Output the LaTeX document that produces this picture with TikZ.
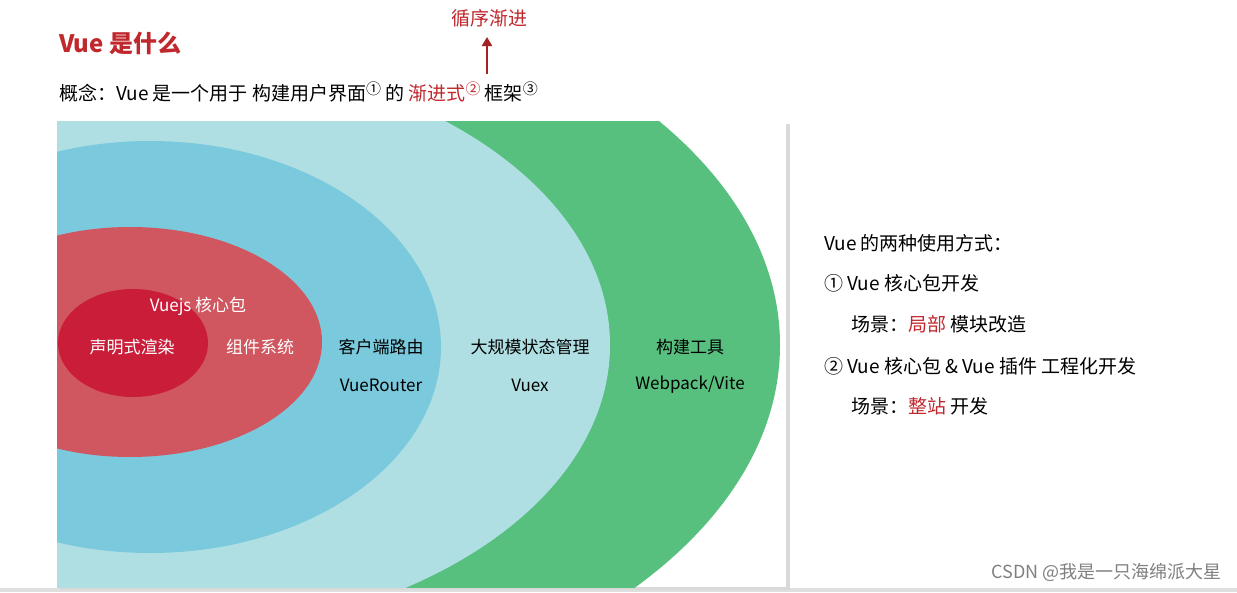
\documentclass[tikz,border=0pt]{standalone}
\usepackage{fontspec}
\setmainfont{Noto Sans CJK SC}
\usetikzlibrary{arrows.meta}
\definecolor{cgreen}{HTML}{57C07E}
\definecolor{clcyan}{HTML}{B0DFE3}
\definecolor{cblue}{HTML}{7BC9DC}
\definecolor{cred}{HTML}{D0565F}
\definecolor{cdred}{HTML}{C91D3A}
\definecolor{ttl}{HTML}{C0282D}
\newcommand{\sz}[1]{\fontsize{#1}{#1}\selectfont}
\newcommand{\circsup}[1]{\raisebox{0.55ex}{\sz{15}#1}}
\begin{document}
\begin{tikzpicture}[x=1pt,y=-1pt,
  lbl/.style={font=\sz{17}, text=black, inner sep=0pt},
  wlbl/.style={font=\sz{17}, text=white, inner sep=0pt},
  rt/.style={font=\sz{19}, anchor=west, inner sep=0pt}]
\useasboundingbox (0,0) rectangle (1237,592);
\fill[white] (0,0) rectangle (1237,592);
\fill[gray!25] (0,588) rectangle (1237,592);
% panel shadow
\fill[gray!30] (60,124) rectangle (790,590);
\begin{scope}
\clip (57,121) rectangle (786,587);
\fill[white] (57,121) rectangle (786,587);
\fill[cgreen] (150,345) ellipse [x radius=630, y radius=380];
\fill[clcyan] (150,345) ellipse [x radius=460, y radius=292];
\fill[cblue] (150,347) ellipse [x radius=291, y radius=206];
\fill[cred] (130,342) ellipse [x radius=192, y radius=115];
\fill[cdred] (133,343) ellipse [x radius=75, y radius=54];
\end{scope}
\node[wlbl] (core) at (198,306) {Vuejs 核心包};
\node[wlbl] (decl) at (132,347) {声明式渲染};
\node[wlbl] (comp) at (260,347) {组件系统};
\node[lbl] (router) at (381,347) {客户端路由};
\node[lbl] (routerE) at (381,385) {VueRouter};
\node[lbl] (state) at (530,347) {大规模状态管理};
\node[lbl] (vuex) at (530,385) {Vuex};
\node[lbl] (build) at (690,347) {构建工具};
\node[lbl] (wp) at (690,385) {Webpack/Vite};
% title
\node[anchor=west, inner sep=0pt, text=ttl, font=\sz{24}\bfseries] (title) at (59,43) {Vue 是什么};
\node[anchor=west, inner sep=0pt, font=\sz{19}] (concept) at (59,92) {概念：Vue 是一个用于 构建用户界面\circsup{①} 的 \textcolor{ttl}{渐进式\circsup{②}} 框架\circsup{③}};
\node[inner sep=0pt, text=ttl, font=\sz{19}] (prog) at (489,18) {循序渐进};
\coordinate (arrS) at (487,74);
\draw[-{Triangle[length=9pt,width=10pt]}, line width=2.5pt, draw=ttl!85!black] (arrS) -- (487,37);
% right text
\node[rt] (r1) at (824,243) {Vue 的两种使用方式：};
\node[rt] (r2) at (824,283) {① Vue 核心包开发};
\node[rt] (r3) at (851,324) {场景：\textcolor{ttl}{局部} 模块改造};
\node[rt] (r4) at (824,366) {② Vue 核心包 \& Vue 插件 工程化开发};
\node[rt] (r5) at (851,406) {场景：\textcolor{ttl}{整站} 开发};
\node[anchor=east, inner sep=0pt, text=gray, font=\sz{18}] (wm) at (1222,572) {CSDN @我是一只海绵派大星};
\end{tikzpicture}
\end{document}
